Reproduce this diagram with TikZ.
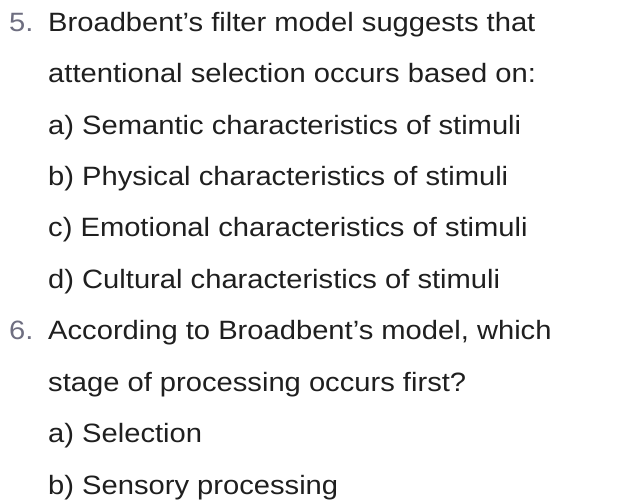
\documentclass[tikz,border=0pt]{standalone}
\usepackage{fontspec}
\setmainfont{Liberation Sans}[FakeStretch=1.1]
\definecolor{txt}{HTML}{1F1F1F}
\definecolor{num}{HTML}{6E6E80}
\newcommand{\ap}{\char"27\relax}
\begin{document}
\begin{tikzpicture}[x=1pt,y=-1pt,
  line/.style={anchor=base west,inner sep=0pt,text=txt,font=\fontsize{26.5}{30}\selectfont},
  numl/.style={anchor=base west,inner sep=0pt,text=num,font=\fontsize{26.5}{30}\selectfont}]
\useasboundingbox[fill=white] (0,0) rectangle (631,501);
\node[numl] (n5) at (9,31) {5.};
\node[line] (l1) at (48,31) {Broadbent\ap s filter model suggests that};
\node[line] (l2) at (48,82) {attentional selection occurs based on:};
\node[line] (l3) at (48,134) {a) Semantic characteristics of stimuli};
\node[line] (l4) at (48,185) {b) Physical characteristics of stimuli};
\node[line] (l5) at (48,236) {c) Emotional characteristics of stimuli};
\node[line] (l6) at (48,288) {d) Cultural characteristics of stimuli};
\node[numl] (n6) at (9,339) {6.};
\node[line] (l7) at (48,339) {According to Broadbent\ap s model, which};
\node[line] (l8) at (48,391) {stage of processing occurs first?};
\node[line] (l9) at (48,442) {a) Selection};
\node[line] (l10) at (48,494) {b) Sensory processing};
\end{tikzpicture}
\end{document}
